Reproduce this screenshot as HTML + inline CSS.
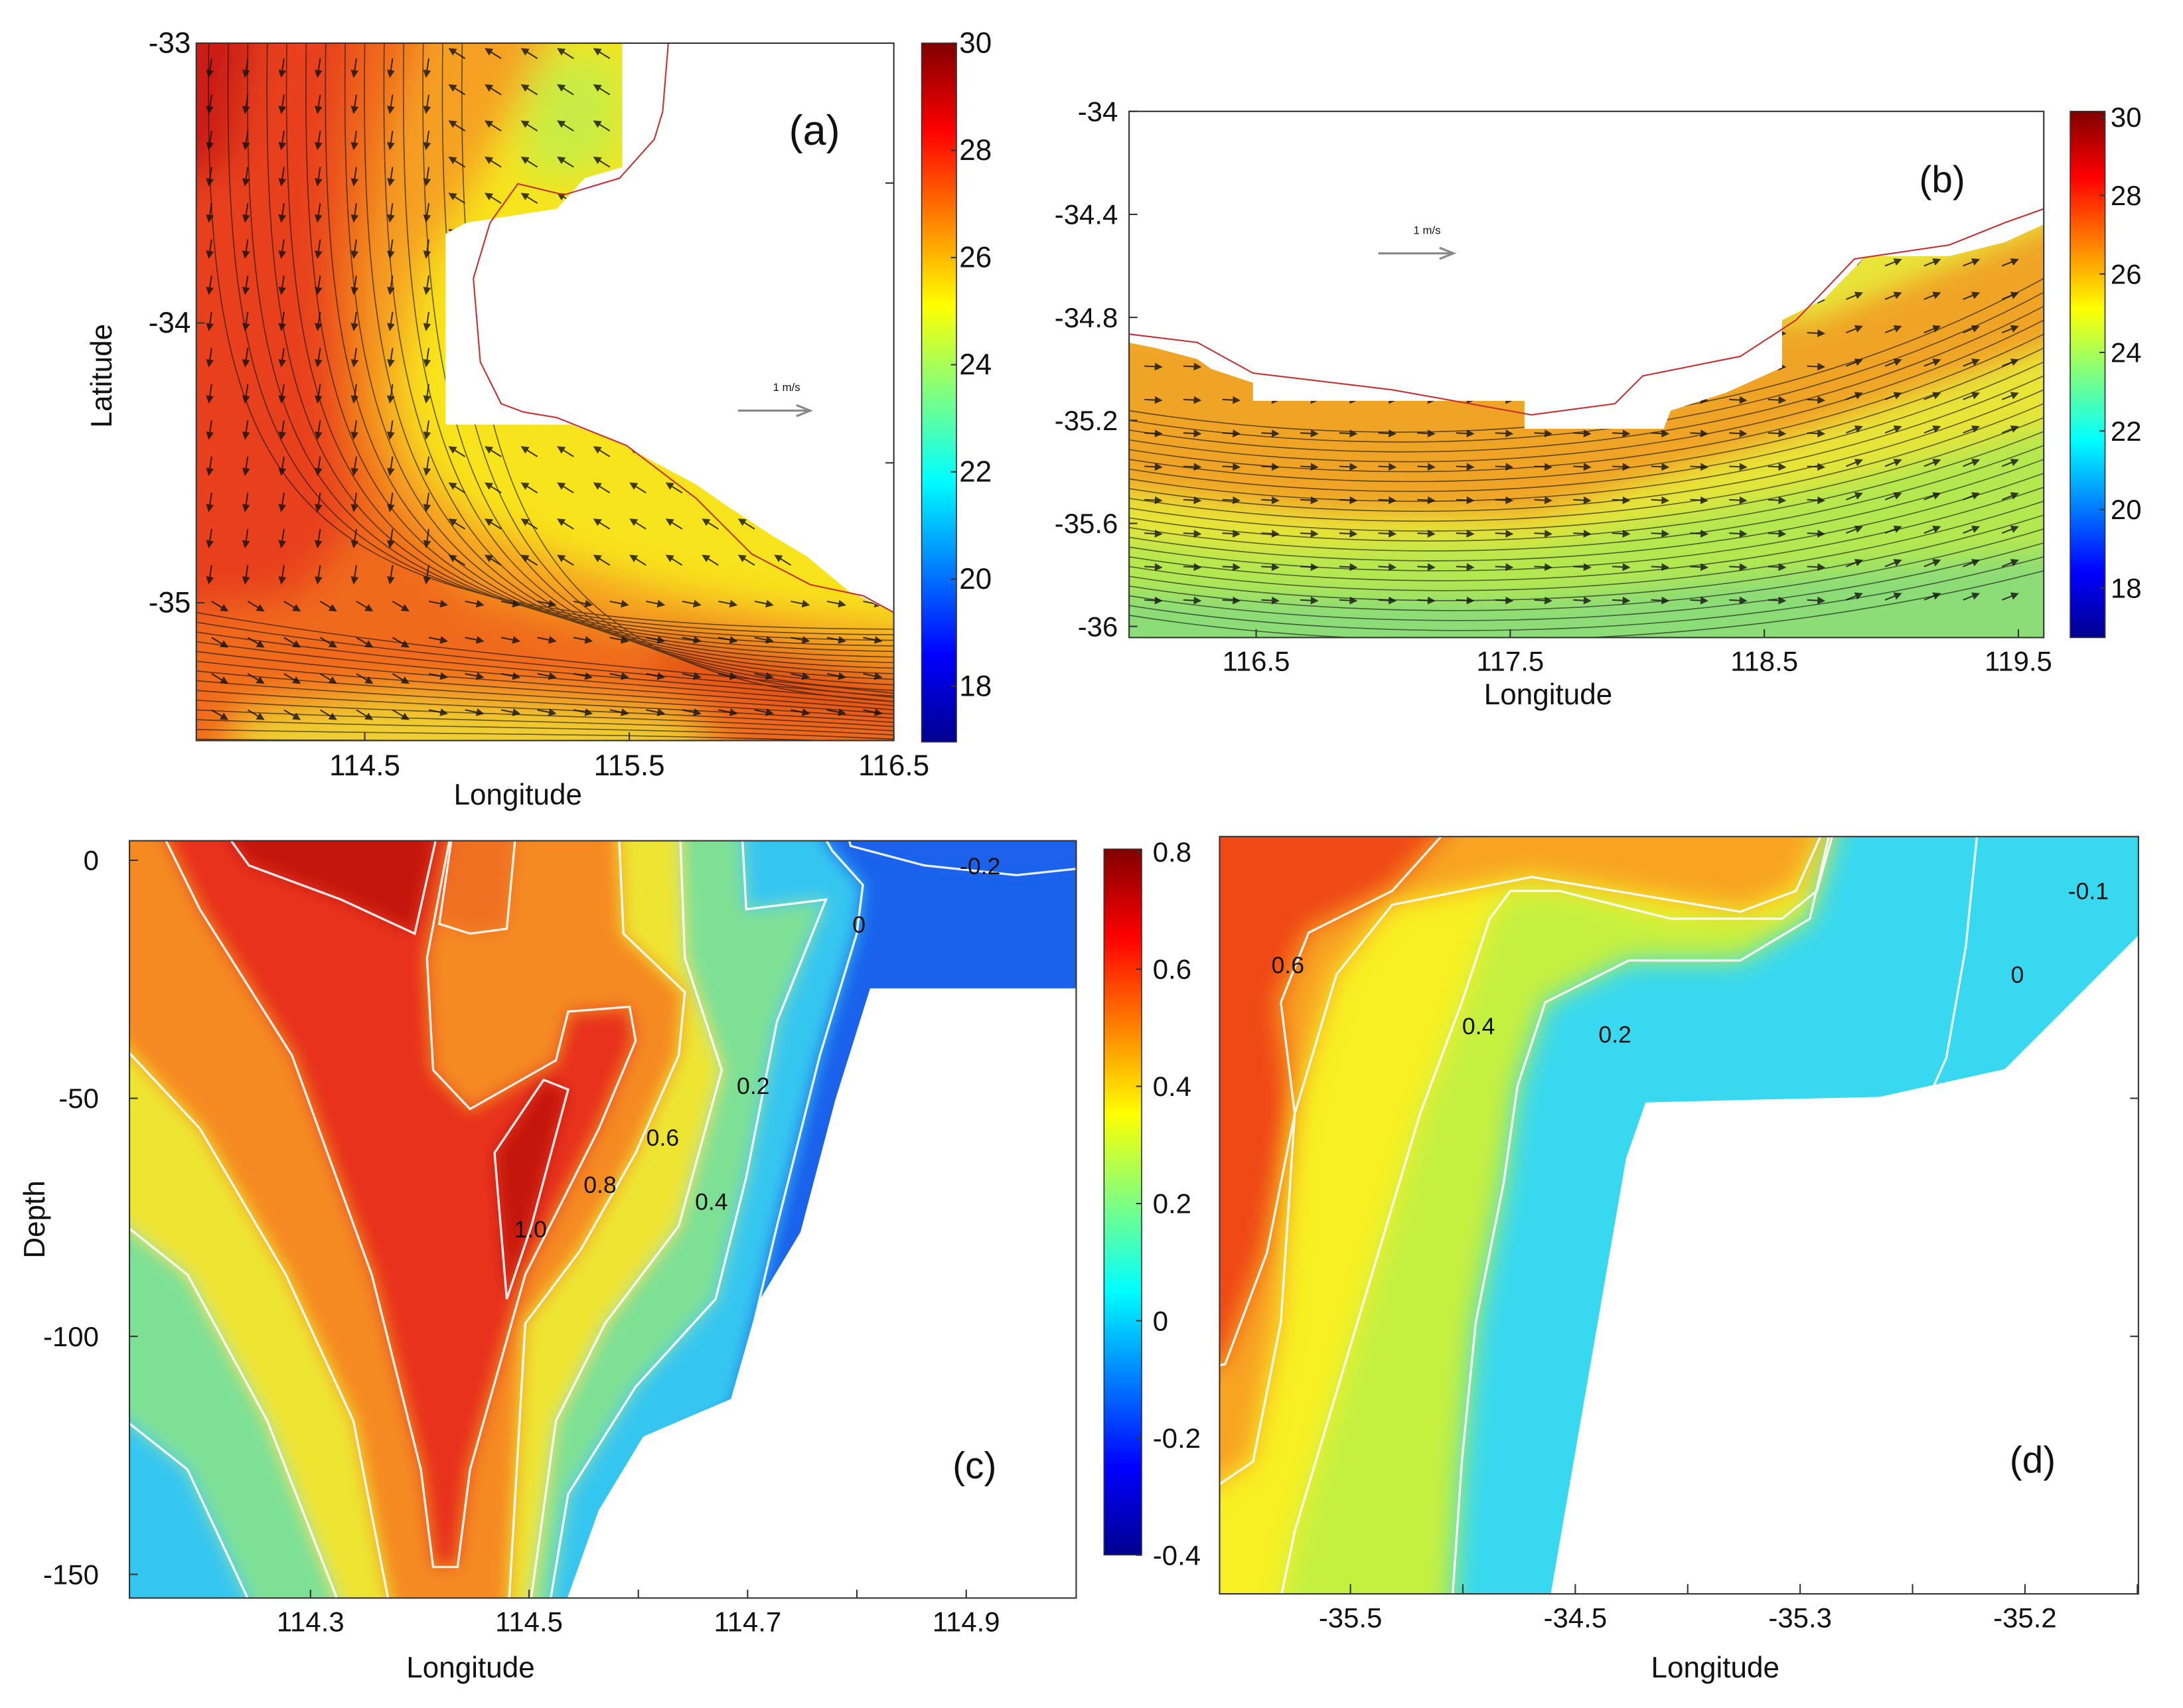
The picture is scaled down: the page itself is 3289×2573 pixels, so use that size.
<!DOCTYPE html>
<html><head><meta charset="utf-8"><style>
html,body{margin:0;padding:0;background:#fff}
svg{display:block}
text{font-family:"Liberation Sans",Arial,sans-serif;fill:#111}
</style></head><body>
<svg id="fig" xmlns="http://www.w3.org/2000/svg" width="3289" height="2573" viewBox="0 0 1568 1227" preserveAspectRatio="none">
<defs>
<linearGradient id="jet" x1="0" y1="1" x2="0" y2="0">
<stop offset="0" stop-color="#00008f"/><stop offset="0.125" stop-color="#0000ff"/><stop offset="0.375" stop-color="#00ffff"/><stop offset="0.625" stop-color="#ffff00"/><stop offset="0.875" stop-color="#ff0000"/><stop offset="1" stop-color="#800000"/>
</linearGradient>
<filter id="blur" x="-10%" y="-10%" width="120%" height="120%"><feGaussianBlur stdDeviation="14"/></filter>
<filter id="blur2" x="-10%" y="-10%" width="120%" height="120%"><feGaussianBlur stdDeviation="9"/></filter>
<filter id="blur3" x="-10%" y="-10%" width="120%" height="120%"><feGaussianBlur stdDeviation="6"/></filter>
<clipPath id="ca"><rect x="141" y="31" width="501" height="501"/></clipPath>
<clipPath id="cb"><rect x="811" y="80" width="657" height="378"/></clipPath>
<clipPath id="cc"><rect x="93" y="604" width="680" height="544"/></clipPath>
<clipPath id="cd"><rect x="876" y="601" width="660" height="544"/></clipPath>
</defs>

<!-- Panel a -->
<g>
 <g clip-path="url(#ca)">
  <rect x="141" y="31" width="501" height="501" fill="#f8e41c"/>
  <g filter="url(#blur)">
   <polygon fill="#f5a024" points="100,0 410,0 340,130 300,200 285,280 300,335 340,375 410,405 480,425 560,440 700,455 700,600 100,600"/>
   <polygon fill="#f06a1c" points="100,0 310,0 280,100 262,200 262,300 285,365 340,425 430,447 510,465 600,490 700,505 700,600 100,600"/>
   <polygon fill="#e8401a" points="100,0 262,0 245,100 238,200 242,300 255,380 215,430 100,445"/>
   <polygon fill="#cc1e12" points="100,0 190,0 165,120 100,140"/>
   <polygon fill="#e04818" points="470,455 560,468 700,495 700,520 560,505 470,485"/>
   <polygon fill="#f0d030" points="160,560 175,512 280,500 400,505 490,515 530,560"/>
   <polygon fill="#c8ec44" points="385,40 447,40 447,112 405,130 372,118"/>
  </g>
  <g id="a-lines" fill="none" stroke="#111" stroke-width="0.8" opacity="0.6"></g>
  <g id="a-arrows" stroke="#111" stroke-width="1" fill="#111" opacity="0.8"></g>
  <polygon fill="#fff" points="447,25 447,120 420,128 400,150 335,160 320,168 320,305 410,305 445,318 470,332 500,348 520,362 555,385 580,400 610,425 642,440 650,440 650,25"/>
  <path fill="none" stroke="#c83030" stroke-width="1" d="M480,31 L476,80 470,100 445,128 405,140 372,132 352,160 340,200 345,260 360,290 376,296 400,300 450,320 500,358 540,398 582,420 620,428 642,440"/>
  <g>
   <line x1="530" y1="295" x2="580" y2="295" stroke="#888" stroke-width="1.5"/>
   <path d="M572,291 L582,295 L572,299" fill="none" stroke="#888" stroke-width="1.5"/>
   <text x="565" y="281" font-size="8" text-anchor="middle">1 m/s</text>
  </g>
 </g>
 <rect x="141" y="31" width="501" height="501" fill="none" stroke="#333" stroke-width="1"/>
 <text x="585" y="104" font-size="30" text-anchor="middle">(a)</text>
 <text x="372" y="578" font-size="21" text-anchor="middle">Longitude</text>
 <text x="80" y="270" font-size="21" text-anchor="middle" transform="rotate(-90 80 270)">Latitude</text>
 <g id="a-ticks"></g>
 <rect x="662" y="31" width="25" height="502" fill="url(#jet)" stroke="#333" stroke-width="0.8"/>
 <g id="cba-ticks"></g>
</g>

<!-- Panel b -->
<g>
 <g clip-path="url(#cb)">
  <rect x="811" y="80" width="657" height="378" fill="#b4e850"/>
  <g filter="url(#blur2)">
   <polygon fill="#e8e438" points="780,200 1500,120 1500,300 1300,350 1100,390 900,395 780,385"/>
   <polygon fill="#f0a428" points="780,235 1300,230 1500,150 1500,240 1300,310 1100,372 950,370 780,350"/>
   <polygon fill="#8cdc78" points="780,425 1100,430 1300,410 1500,395 1500,480 780,480"/>
  </g>
  <g id="b-lines" fill="none" stroke="#111" stroke-width="0.8" opacity="0.6"></g>
  <g id="b-arrows" stroke="#111" stroke-width="1" fill="#111" opacity="0.8"></g>
  <polygon fill="#fff" points="805,75 805,245 830,250 860,258 870,265 900,275 900,288 1095,288 1095,308 1195,308 1200,295 1240,282 1280,264 1280,230 1310,215 1340,184 1400,184 1440,174 1475,158 1475,75"/>
  <path fill="none" stroke="#c83030" stroke-width="1" d="M811,240 L860,246 900,268 1000,280 1100,298 1160,290 1180,270 1250,256 1290,230 1332,186 1400,176 1440,160 1468,150"/>
  <g>
   <line x1="990" y1="182" x2="1042" y2="182" stroke="#888" stroke-width="1.5"/>
   <path d="M1034,178 L1044,182 L1034,186" fill="none" stroke="#888" stroke-width="1.5"/>
   <text x="1025" y="168" font-size="8" text-anchor="middle">1 m/s</text>
  </g>
 </g>
 <rect x="811" y="80" width="657" height="378" fill="none" stroke="#333" stroke-width="1"/>
 <text x="1395" y="138" font-size="27" text-anchor="middle">(b)</text>
 <text x="1112" y="506" font-size="21" text-anchor="middle">Longitude</text>
 <g id="b-ticks"></g>
 <rect x="1487" y="80" width="25" height="378" fill="url(#jet)" stroke="#333" stroke-width="0.8"/>
 <g id="cbb-ticks"></g>
</g>

<!-- Panel c -->
<g>
 <g clip-path="url(#cc)">
  <rect x="93" y="604" width="680" height="544" fill="#1a62ec"/>
  <g id="c-bands" filter="url(#blur3)"></g>
  <g id="c-contours" fill="none" stroke="#fff" stroke-width="1.6" opacity="0.9"></g>
  <polygon fill="#fff" points="625,710 780,710 780,1155 405,1155 430,1085 462,1032 490,1020 525,1005 545,935 575,885 600,790"/>
 </g>
 <rect x="93" y="604" width="680" height="544" fill="none" stroke="#333" stroke-width="1"/>
 <g id="c-labels" font-size="17"></g>
 <text x="700" y="1062" font-size="27" text-anchor="middle">(c)</text>
 <text x="338" y="1205" font-size="21" text-anchor="middle">Longitude</text>
 <text x="32" y="876" font-size="21" text-anchor="middle" transform="rotate(-90 32 876)">Depth</text>
 <g id="c-ticks"></g>
 <rect x="793" y="610" width="27" height="507" fill="url(#jet)" stroke="#333" stroke-width="0.8"/>
 <g id="cbc-ticks"></g>
</g>

<!-- Panel d -->
<g>
 <g clip-path="url(#cd)">
  <rect x="876" y="601" width="660" height="544" fill="#38d8f0"/>
  <g id="d-bands" filter="url(#blur2)"></g>
  <g id="d-contours" fill="none" stroke="#fff" stroke-width="1.6" opacity="0.9"></g>
  <polygon fill="#fff" points="1168,832 1182,792 1260,790 1350,788 1440,768 1540,668 1540,1150 1113,1150"/>
 </g>
 <rect x="876" y="601" width="660" height="544" fill="none" stroke="#333" stroke-width="1"/>
 <g id="d-labels" font-size="17"></g>
 <text x="1460" y="1058" font-size="27" text-anchor="middle">(d)</text>
 <text x="1232" y="1205" font-size="21" text-anchor="middle">Longitude</text>
 <g id="d-ticks"></g>
</g>
</svg>

<script>
const NS='http://www.w3.org/2000/svg';
function mk(tag,parent,attrs){const e=document.createElementNS(NS,tag);for(const k in attrs)e.setAttribute(k,attrs[k]);parent.appendChild(e);return e;}
const $=id=>document.getElementById(id);

// ---- tick data ----
const aXTicks=[114.5,115.5,116.5];
const aYTicks=[-33,-34,-35];
const bXTicks=[116.5,117.5,118.5,119.5];
const bYTicks=[-34,-34.4,-34.8,-35.2,-35.6,-36];
const tempTicks=[30,28,26,24,22,20,18];
const cXTicks=[114.3,114.5,114.7,114.9];
const cXMinor=[114.6,114.8];
const depthTicks=[0,-50,-100,-150];
const velTicks=[0.8,0.6,0.4,0.2,0,-0.2,-0.4];
const dXTickLabels=['-35.5','-34.5','-35.3','-35.2'];
const cContourLabels=['-0.2','0','0.2','0.4','0.6','0.8','1.0'];
const dContourLabels=['0.6','0.4','0.2','0','-0.1'];

// ---- scales ----
const axA=v=>262+(v-114.5)*190, ayA=v=>31+(-33-v)*201;
const axB=v=>811+(v-116)*(657/3.6), ayB=v=>80+(-34-v)*185;
const tA=v=>31+(30-v)*38.5, tB=v=>84+(30-v)*28.2;
const axC=v=>223+(v-114.3)*785, ayC=v=>618-v*3.42;
const vC=v=>612+(0.8-v)*421;
const axD=i=>970+i*161.5;

function tickX(g,x,y,len,lab,fs){
  const l=mk('line',g,{x1:x,y1:y,x2:x,y2:y-len,stroke:'#333','stroke-width':1});
  
  
  if(lab===null)return;
  const t=mk('text',g,{x:x,y:y+fs+4,'font-size':fs,'text-anchor':'middle'});t.textContent=lab;
  
  
}
function tickY(g,x,y,len,lab,fs,anchor,dx){
  const l=mk('line',g,{x1:x,y1:y,x2:x+len,y2:y,stroke:'#333','stroke-width':1});
  
  
  const t=mk('text',g,{x:x+dx,y:y+7,'font-size':fs,'text-anchor':anchor});t.textContent=lab;
  
  
}
aXTicks.forEach(v=>tickX($('a-ticks'),axA(v),532,6,String(v),21));
aYTicks.forEach(v=>tickY($('a-ticks'),141,ayA(v),6,String(v),21,'end',-4));
[ayA(-33.5),ayA(-34.5)].forEach(y=>{const l=mk('line',$('a-ticks'),{x1:636,y1:y,x2:642,y2:y,stroke:'#333'});});
tempTicks.forEach(v=>tickY($('cba-ticks'),687,tA(v),-4,String(v),21,'start',2));
bXTicks.forEach(v=>tickX($('b-ticks'),axB(v),458,6,String(v),20));
bYTicks.forEach(v=>tickY($('b-ticks'),811,ayB(v),6,String(v),20,'end',-8));
tempTicks.forEach(v=>tickY($('cbb-ticks'),1512,tB(v),-4,String(v),20,'start',4));
cXTicks.forEach(v=>tickX($('c-ticks'),axC(v),1148,6,String(v),20));
cXMinor.forEach(v=>tickX($('c-ticks'),axC(v),1148,6,null,20));
depthTicks.forEach(v=>tickY($('c-ticks'),93,ayC(v),6,String(v),20,'end',-22));
velTicks.forEach(v=>tickY($('cbc-ticks'),820,vC(v),-4,String(v),20,'start',8));
dXTickLabels.forEach((s,i)=>tickX($('d-ticks'),axD(i),1145,7,s,20));
[0.5,1.5,2.5,3.5].forEach(i=>tickX($('d-ticks'),axD(i),1145,7,null,20));
[ayC(-50),ayC(-100)].forEach(y=>{const l=mk('line',$('d-ticks'),{x1:1530,y1:y,x2:1536,y2:y,stroke:'#333'});});

// ---- decorative flow fields ----
function arrow(g,x,y,dx,dy,L){
  const n=Math.hypot(dx,dy)||1;dx/=n;dy/=n;
  const x2=x+dx*L,y2=y+dy*L;
  const p=mk('path',g,{d:`M${x},${y}L${x2},${y2}M${x2},${y2}L${x2-dx*4-dy*2},${y2-dy*4+dx*2}L${x2-dx*4+dy*2},${y2-dy*4-dx*2}Z`});
  
  
}
for(let y=42;y<530;y+=26){for(let x=152;x<640;x+=26){
  let dx,dy;
  if(y<420&&x<330){dx=-0.15;dy=1;}
  else if(y>=420){dx=1;dy=(x<300?0.6:0.2);}
  else {dx=-0.8;dy=-0.5;}
  arrow($('a-arrows'),x,y,dx,dy,13);
}}
for(let k=0;k<14;k++){const x0=150+k*14;
  const p=mk('path',$('a-lines'),{d:`M${x0},31 C${x0-5},380 ${x0+60},${450+k*3} 642,${452+k*4}`});
  
  }
for(let k=0;k<14;k++){
  const p=mk('path',$('a-lines'),{d:`M141,${440+k*7} C300,${468+k*5} 450,${478+k*4} 642,${498+k*3}`});
  
  }
for(let y=95;y<455;y+=24){for(let x=822;x<1466;x+=28){
  arrow($('b-arrows'),x,y,1,(x>1300?-0.4:0.05),12);
}}
for(let k=0;k<22;k++){const y0=295+k*7;
  const p=mk('path',$('b-lines'),{d:`M811,${y0} C1000,${y0+30} 1250,${y0+25} 1468,${y0-95+k*3}`});
  
  }

function extend(pts,x0,y0,y1){
  return pts.split(' ').map(p=>{let [x,y]=p.split(',').map(Number);
    if(x===x0)x=x0-50; if(y===y0)y=y0-50; if(y===y1)y=y1+50; return x+','+y;}).join(' ');
}
// ---- panel c bands (local section frame -> plot) ----
function cmap(s){return s.split(' ').map(p=>{const [a,b]=p.split(',').map(Number);return (90.6+a*0.441).toFixed(1)+','+(600.7+b*0.35).toFixed(1);}).join(' ');}
const cBands=[
 ['#34c6f0','-80,-80 1100,-80 1150,30 1200,100 1190,200 1130,450 1060,800 990,1170 880,1250 800,1380 720,1650 -80,1650'],
 ['#7ee094','-80,-80 1000,-80 1010,150 1140,130 1060,380 1010,700 960,950 830,1130 720,1350 680,1650 230,1650 100,1300 -80,1120'],
 ['#eee430','-80,-80 900,-80 910,250 970,480 900,800 780,1000 700,1200 650,1650 370,1650 230,1200 100,900 -80,720'],
 ['#f58a24','-80,-80 800,-80 810,200 910,320 900,450 830,650 740,850 650,1000 620,1650 440,1650 370,1200 260,900 120,600 -80,330'],
 ['#e8301a','30,-80 540,-80 490,250 500,480 560,560 700,460 720,360 820,350 830,420 770,600 650,900 560,1300 540,1500 500,1500 480,1300 400,900 270,450 120,150'],
 ['#f07020','540,-80 640,-80 620,190 560,200 510,180'],
 ['#c41410','120,-80 520,-80 470,200 350,130 200,60'],
 ['#c41410','600,650 680,500 720,520 660,800 620,950'],
 ['#1a62ec','1160,-80 1600,-80 1600,60 1450,80 1300,60 1180,20']
];
cBands.forEach(b=>{
  const pts=cmap(b[1]);
  const p=mk('polygon',$('c-bands'),{fill:b[0],points:pts});
  
  
  const s=mk('polygon',$('c-contours'),{points:pts});
  
  
});
const cLabPos=[[704,628],[617,670],[541,786],[511,869],[476,823],[431,857],[381,889]];
cContourLabels.forEach((s,i)=>{const t=mk('text',$('c-labels'),{x:cLabPos[i][0],y:cLabPos[i][1],'text-anchor':'middle'});t.textContent=s;
  
  });

// ---- panel d bands ----
const dBands=[
 ['#c4f040','876,601 1325,601 1300,660 1250,690 1170,690 1110,720 1090,780 1080,850 1060,950 1050,1050 1040,1145 876,1145'],
 ['#f8f020','876,601 1330,601 1305,640 1280,660 1200,660 1120,640 1085,640 1070,660 1050,720 1020,800 990,900 960,1000 930,1100 910,1145 876,1145'],
 ['#f8a422','876,601 1330,601 1290,640 1250,655 1100,630 1000,650 960,700 930,800 920,950 900,1050 876,1100'],
 ['#f04814','876,601 1080,601 1000,640 940,670 920,720 930,800 910,900 880,980 876,990']
];
dBands.forEach(b=>{
  const pts=extend(b[1],876,601,1145);
  const p=mk('polygon',$('d-bands'),{fill:b[0],points:pts});
  
  
  const s=mk('polygon',$('d-contours'),{points:pts});
  
  
});
const z=mk('path',$('d-contours'),{d:'M1420,601 L1412,680 1398,760 1380,800'});


const dLabPos=[[925,699],[1062,743],[1160,749],[1449,706],[1500,646]];
dContourLabels.forEach((s,i)=>{const t=mk('text',$('d-labels'),{x:dLabPos[i][0],y:dLabPos[i][1],'text-anchor':'middle'});t.textContent=s;
  
  });
</script>
</body></html>
